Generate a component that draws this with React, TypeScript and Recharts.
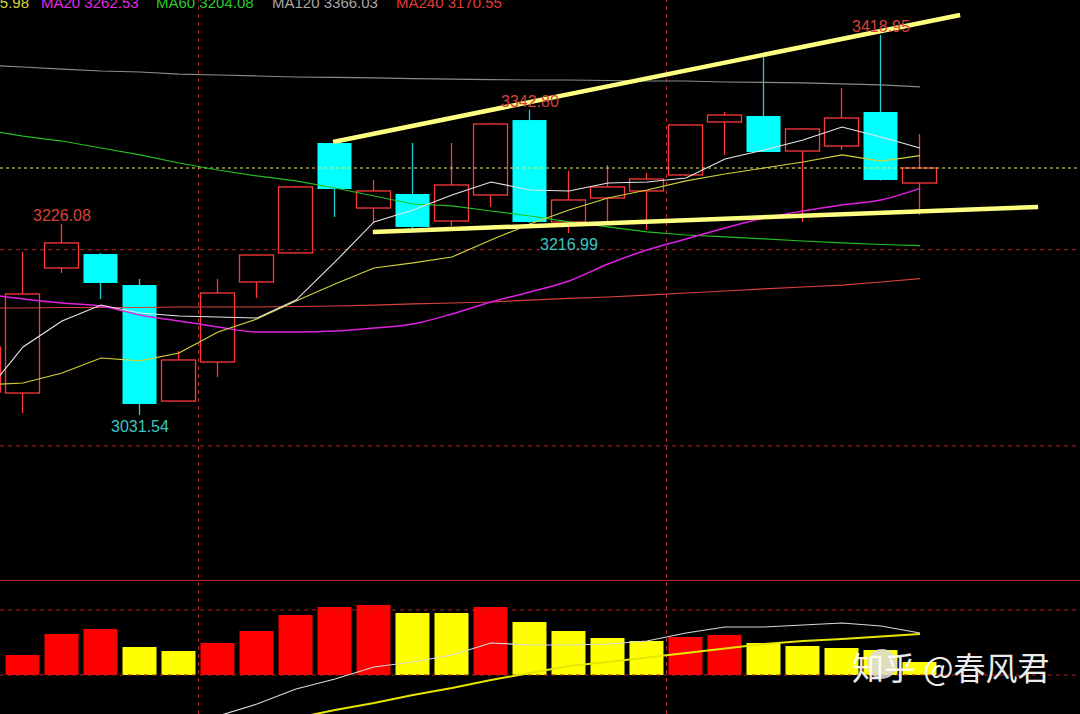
import React from 'react';
import {
  ComposedChart,
  Bar,
  Line,
  XAxis,
  YAxis,
  ReferenceLine,
  ReferenceDot,
  Cell,
} from 'recharts';

// ---------- data ----------
const idx = [-1, 0, 1, 2, 3, 4, 5, 6, 7, 8, 9, 10, 11, 12, 13, 14, 15, 16, 17, 18, 19, 20, 21, 22, 23];
const opens = [3054.9, 3053.9, 3181.4, 3195.6, 3164.0, 3045.7, 3085.5, 3167.1, 3196.7, 3308.8, 3242.5, 3256.8, 3229.3, 3255.8, 3332.2, 3228.3, 3252.7, 3259.9, 3276.2, 3330.2, 3336.3, 3300.6, 3305.7, 3340.4, 3268.0];
const highs = [3113.0, 3197.7, 3226.08, 3196.7, 3170.2, 3096.7, 3170.2, 3195.0, 3265.0, 3309.5, 3271.1, 3308.8, 3308.8, 3329.2, 3342.8, 3280.3, 3286.4, 3278.2, 3328.2, 3340.4, 3396.5, 3324.1, 3364.9, 3418.95, 3318.0];
const lows = [3046.8, 3033.5, 3176.3, 3149.8, 3031.54, 3045.0, 3070.2, 3150.8, 3196.0, 3233.4, 3227.2, 3222.2, 3224.2, 3243.6, 3227.2, 3216.99, 3229.3, 3220.1, 3275.2, 3296.6, 3299.6, 3228.3, 3301.7, 3270.5, 3235.4];
const closes = [3100.8, 3154.9, 3206.9, 3166.1, 3042.7, 3087.6, 3155.9, 3194.6, 3264.0, 3261.9, 3259.9, 3223.2, 3266.0, 3328.2, 3228.3, 3250.7, 3264.0, 3272.1, 3327.2, 3337.3, 3299.6, 3323.1, 3334.3, 3271.1, 3283.3];

const ma5 = [3051.9, 3100.8, 3127.3, 3143.6, 3135.5, 3132.4, 3131.4, 3130.4, 3148.7, 3187.5, 3228.3, 3240.5, 3255.8, 3269.0, 3260.9, 3259.9, 3268.0, 3269.0, 3273.1, 3292.5, 3301.7, 3311.9, 3325.1, 3314.9, 3303.7];
const ma10 = [3062.1, 3064.1, 3074.3, 3089.6, 3086.6, 3094.7, 3116.1, 3129.4, 3147.7, 3165.1, 3181.4, 3186.5, 3192.6, 3209.9, 3226.2, 3240.5, 3252.7, 3260.9, 3270.1, 3277.2, 3283.3, 3289.4, 3296.6, 3290.4, 3295.98];
const ma20 = [3154.9, 3149.8, 3145.7, 3142.6, 3133.5, 3127.3, 3121.2, 3116.1, 3116.1, 3117.1, 3120.2, 3124.3, 3134.5, 3146.7, 3156.9, 3168.1, 3185.4, 3199.7, 3210.9, 3222.1, 3232.3, 3239.5, 3245.6, 3250.7, 3262.53];
const ma60 = [3322.1, 3315.9, 3310.8, 3303.7, 3296.6, 3288.4, 3281.3, 3275.2, 3270.1, 3262.9, 3254.8, 3246.6, 3244.6, 3239.5, 3234.4, 3228.3, 3223.2, 3218.1, 3215.0, 3213.0, 3211.0, 3208.9, 3207.0, 3205.3, 3204.08];
const ma120 = [3388.3, 3386.3, 3384.2, 3382.2, 3381.2, 3379.1, 3378.1, 3377.1, 3376.1, 3375.6, 3375.1, 3374.5, 3374.0, 3373.5, 3373.0, 3373.0, 3372.5, 3372.0, 3372.0, 3371.0, 3370.5, 3370.0, 3369.0, 3368.0, 3366.03];
const ma240 = [3140.6, 3140.6, 3141.1, 3141.1, 3141.1, 3141.6, 3141.6, 3141.6, 3142.1, 3142.6, 3143.6, 3144.7, 3145.7, 3146.7, 3148.7, 3150.3, 3151.8, 3153.8, 3155.9, 3157.9, 3160.0, 3162.0, 3164.0, 3167.1, 3170.55];

const volumes = [null, 200, 410, 460, 280, 240, 320, 440, 600, 680, 700, 620, 620, 680, 530, 440, 370, 340, 380, 400, 320, 290, 270, 250, 130];
const volUp = [false, true, true, true, false, false, true, true, true, true, true, false, false, true, false, false, false, false, true, true, false, false, false, false, false];
const volMaA = [null, null, null, null, null, -550, -410, -290, -140, -40, 80, 130, 200, 320, 300, 300, 310, 340, 420, 480, 480, 500, 520, 490, 420];
const volMaB = [null, null, null, null, null, null, null, -510, -430, -350, -280, -200, -130, -50, 20, 90, 130, 175, 220, 265, 310, 340, 360, 385, 410];

const upperTrend = [
  { x: 7.95, y: 3309.8 },
  { x: 24.03, y: 3439.3 },
];
const lowerTrend = [
  { x: 8.97, y: 3218.1 },
  { x: 26.03, y: 3243.6 },
];
const priceGrid = [3200, 3000];
const periodDividers = [4.5, 16.5];
const lastClose = closes[closes.length - 1];

const highMarks = [
  { i: 1, p: 3226.08 },
  { i: 13, p: 3342.8 },
  { i: 22, p: 3418.95 },
];
const lowMarks = [
  { i: 3, p: 3031.54 },
  { i: 14, p: 3216.99 },
];

const legendItems = [
  { name: 'MA20', values: ma20, color: '#e22be2' },
  { name: 'MA60', values: ma60, color: '#2fc82f' },
  { name: 'MA120', values: ma120, color: '#a8a8a8' },
  { name: 'MA240', values: ma240, color: '#e03a3a' },
];
const legendX = [41, 156, 272, 396];

// ---------- styling ----------
const X_DOMAIN: [number, number] = [-0.5897, 27.103];
const PRICE_DOMAIN: [number, number] = [2873.48, 3454.58];
const VOL_DOMAIN: [number, number] = [-390, 1050];
const UP = '#ff3838';
const DOWN = '#00ffff';
const DOWN_WICK = '#1fd0d0';
const GRID = '#b02424';

const priceData = idx.map((i, k) => ({
  i,
  range: [lows[k], highs[k]],
  open: opens[k],
  high: highs[k],
  low: lows[k],
  close: closes[k],
  ma5: ma5[k],
  ma10: ma10[k],
  ma20: ma20[k],
  ma60: ma60[k],
  ma120: ma120[k],
  ma240: ma240[k],
}));

const volData = idx.map((i, k) => ({
  i,
  vol: volumes[k],
  up: volUp[k],
  a: volMaA[k],
  b: volMaB[k],
}));

function Candle(props: any) {
  const { x, y, width, height, payload } = props;
  if (!payload || x == null || y == null) return null;
  const top = Math.min(y, y + height);
  const h = Math.abs(height);
  const { open, close, high, low } = payload;
  const pix = (p: number) => top + ((high - p) / (high - low)) * h;
  const cx = Math.round(x + width / 2) + 0.5;
  const half = 17;
  const yo = pix(open);
  const yc = pix(close);
  const yh = pix(high);
  const yl = pix(low);
  const bTop = Math.min(yo, yc);
  const bBot = Math.max(yo, yc);
  if (close >= open) {
    return (
      <g>
        <line x1={cx} x2={cx} y1={yh} y2={bTop} stroke={UP} strokeWidth={1.3} />
        <line x1={cx} x2={cx} y1={bBot} y2={yl} stroke={UP} strokeWidth={1.3} />
        <rect x={cx - half} y={bTop} width={half * 2} height={Math.max(1, bBot - bTop)} fill="none" stroke={UP} strokeWidth={1.3} />
      </g>
    );
  }
  return (
    <g>
      <line x1={cx} x2={cx} y1={yh} y2={yl} stroke={DOWN_WICK} strokeWidth={1.3} />
      <rect x={cx - half} y={bTop} width={half * 2} height={Math.max(1, bBot - bTop)} fill={DOWN} />
    </g>
  );
}

export default function App() {
  return (
    <div
      style={{
        position: 'absolute',
        left: 0,
        top: 0,
        width: 1080,
        height: 714,
        background: '#000',
        overflow: 'hidden',
        fontFamily: '"Liberation Sans", Arial, sans-serif',
      }}
    >
      <div style={{ position: 'absolute', left: 0, top: 0 }}>
        <ComposedChart width={1080} height={570} data={priceData} margin={{ top: 0, right: 0, bottom: 0, left: 0 }}>
          <XAxis dataKey="i" type="number" domain={X_DOMAIN} hide allowDataOverflow />
          <YAxis type="number" domain={PRICE_DOMAIN} hide width={0} allowDataOverflow />
          {priceGrid.map((p) => (
            <ReferenceLine key={p} y={p} stroke={GRID} strokeDasharray="4 4" strokeWidth={1} />
          ))}
          {periodDividers.map((d) => (
            <ReferenceLine key={d} x={d} stroke={GRID} strokeDasharray="4 4" strokeWidth={1} />
          ))}
          <ReferenceLine y={lastClose} stroke="#e6e66a" strokeDasharray="3 3" strokeWidth={1} />
          <Bar dataKey="range" barSize={34} shape={Candle} isAnimationActive={false} />
          <Line dataKey="ma240" stroke="#d84040" strokeWidth={1.2} dot={false} isAnimationActive={false} />
          <Line dataKey="ma120" stroke="#8a8a8a" strokeWidth={1.2} dot={false} isAnimationActive={false} />
          <Line dataKey="ma60" stroke="#22c022" strokeWidth={1.2} dot={false} isAnimationActive={false} />
          <Line type="monotone" dataKey="ma20" stroke="#e020e0" strokeWidth={1.5} dot={false} isAnimationActive={false} />
          <Line dataKey="ma10" stroke="#d2d23a" strokeWidth={1.2} dot={false} isAnimationActive={false} />
          <Line dataKey="ma5" stroke="#e8e8e8" strokeWidth={1.1} dot={false} isAnimationActive={false} />
          <ReferenceLine segment={upperTrend} stroke="#ffff80" strokeWidth={4.5} />
          <ReferenceLine segment={lowerTrend} stroke="#ffff80" strokeWidth={4.5} />
          {highMarks.map((m) => (
            <ReferenceDot
              key={'h' + m.i}
              x={m.i}
              y={m.p}
              r={0}
              stroke="none"
              fill="none"
              label={{ value: m.p.toFixed(2), position: 'top', offset: 3, fill: '#d8403a', fontSize: 16 }}
            />
          ))}
          {lowMarks.map((m) => (
            <ReferenceDot
              key={'l' + m.i}
              x={m.i}
              y={m.p}
              r={0}
              stroke="none"
              fill="none"
              label={{ value: m.p.toFixed(2), position: 'bottom', offset: 6, fill: '#3cc6c6', fontSize: 16 }}
            />
          ))}
        </ComposedChart>
      </div>
      <div style={{ position: 'absolute', left: 0, top: 570 }}>
        <ComposedChart width={1080} height={144} data={volData} margin={{ top: 0, right: 0, bottom: 0, left: 0 }}>
          <XAxis dataKey="i" type="number" domain={X_DOMAIN} hide allowDataOverflow />
          <YAxis type="number" domain={VOL_DOMAIN} hide width={0} allowDataOverflow />
          <ReferenceLine y={945} stroke="#c02828" strokeWidth={1.2} />
          <ReferenceLine y={650} stroke={GRID} strokeDasharray="4 4" />
          <ReferenceLine y={0} stroke={GRID} strokeDasharray="4 4" />
          {periodDividers.map((d) => (
            <ReferenceLine key={d} x={d} stroke={GRID} strokeDasharray="4 4" />
          ))}
          <Bar dataKey="vol" barSize={34} isAnimationActive={false}>
            {volData.map((d) => (
              <Cell key={d.i} fill={d.up ? '#ff0000' : '#ffff00'} />
            ))}
          </Bar>
          <Line dataKey="a" stroke="#d8d8d8" strokeWidth={1.2} dot={false} isAnimationActive={false} />
          <Line dataKey="b" stroke="#e6e600" strokeWidth={2} dot={false} isAnimationActive={false} />
        </ComposedChart>
      </div>
      <svg width={1080} height={714} style={{ position: 'absolute', left: 0, top: 0, pointerEvents: 'none' }}>
        <text x={29} y={8} fontSize={15} fill="#d6d63c" textAnchor="end">
          {'MA10 ' + ma10[ma10.length - 1].toFixed(2)}
        </text>
        {legendItems.map((it, k) => (
          <text key={it.name} x={legendX[k]} y={8} fontSize={15} fill={it.color}>
            {it.name + ' ' + it.values[it.values.length - 1].toFixed(2)}
          </text>
        ))}
        <circle cx={882} cy={664} r={15} fill="#d8d8d8" opacity={0.85} />
        <text
          x={852}
          y={680}
          fontSize={32}
          fill="#ffffff"
          opacity={0.92}
          style={{ fontFamily: '"Noto Sans CJK SC", sans-serif' }}
        >
          知乎 @春风君
        </text>
      </svg>
    </div>
  );
}
